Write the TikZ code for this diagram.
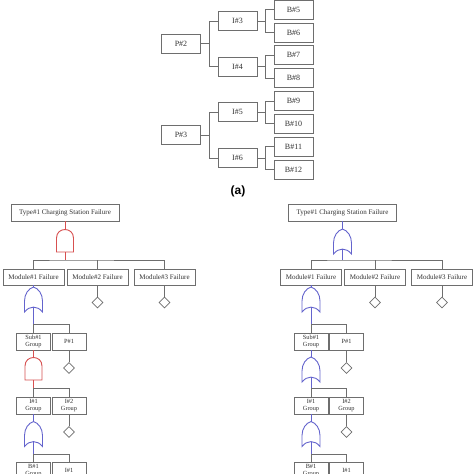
\documentclass[tikz,border=0pt]{standalone}
\usepackage{fontspec}
\setmainfont{Liberation Serif}
\newfontfamily\labfont{Liberation Sans}
\usetikzlibrary{shapes.geometric}
\definecolor{lgray}{RGB}{110,110,110}
\definecolor{gred}{RGB}{215,80,80}
\definecolor{gblue}{RGB}{100,100,205}
\definecolor{tgray}{RGB}{50,50,50}
\tikzset{
  abox/.style={draw=lgray, line width=0.8pt, minimum width=39pt, minimum height=19pt, inner sep=0pt, font=\fontsize{8}{9}\selectfont, text=tgray},
  topbox/.style={draw=lgray, line width=0.8pt, minimum width=108pt, minimum height=17pt, inner sep=0pt, font=\fontsize{7}{8}\selectfont, text=tgray},
  modbox/.style={draw=lgray, line width=0.8pt, minimum width=61pt, minimum height=16pt, inner sep=0pt, font=\fontsize{7}{8}\selectfont, text=tgray},
  grpbox/.style={draw=lgray, line width=0.8pt, minimum width=34pt, minimum height=17pt, inner sep=0pt, font=\fontsize{6.3}{7}\selectfont, text=tgray, align=center},
  basicev/.style={diamond, draw=lgray, line width=0.8pt, minimum width=11pt, minimum height=11pt, inner sep=0pt},
  link/.style={draw=lgray, line width=0.8pt},
  andgate/.pic={\draw[gred, line width=0.9pt] (-8.5,23) -- (-8.5,9) .. controls (-8.5,-2.3) and (8.5,-2.3) .. (8.5,9) -- (8.5,23) -- cycle;
    \coordinate (-in) at (0,0); \coordinate (-out) at (0,23);},
  orgate/.pic={\draw[gblue, line width=0.9pt] (0,0) .. controls (5,1.5) and (9,7) .. (9,14) -- (9,25) .. controls (4,18.5) and (-4,18.5) .. (-9,25) -- (-9,14) .. controls (-9,7) and (-5,1.5) .. (0,0) -- cycle;
    \coordinate (-in) at (0,0); \coordinate (-out) at (0,20.1);}
}
% #1 prefix, #2 xshift, #3 gate1 pic, #4 gate1 colour, #5 gate3 pic, #6 gate3 colour
\newcommand\chargetree[6]{%
\begin{scope}[xshift=#2pt]
  \node[topbox] (#1top) at (65,212.5) {Type\#1 Charging Station Failure};
  \pic (#1g1) at (65,229) {#3};
  \coordinate (#1b1) at (65,260);
  \node[modbox] (#1m1) at (33.5,277) {Module\#1 Failure};
  \node[modbox] (#1m2) at (97.5,277) {Module\#2 Failure};
  \node[modbox] (#1m3) at (164.5,277) {Module\#3 Failure};
  \node[basicev] (#1d2) at (97.5,302.5) {};
  \node[basicev] (#1d3) at (164.5,302.5) {};
  \draw[#4, line width=0.9pt] (#1top.south) -- (#1g1-in);
  \draw[#4, line width=0.9pt] (#1g1-out) -- (#1b1);
  \draw[link] (#1m1.north) |- (#1b1) -| (#1m3.north);
  \draw[link] (#1m2.north) -- (#1m2.north |- #1b1);
  \draw[link] (#1m2.south) -- (#1d2.north);
  \draw[link] (#1m3.south) -- (#1d3.north);
  % level 2
  \pic (#1g2) at (33.5,287) {orgate};
  \coordinate (#1b2) at (33.5,324);
  \node[grpbox] (#1sub) at (33.5,341.5) {Sub\#1\\Group};
  \node[grpbox] (#1p1) at (69,341.5) {P\#1};
  \node[basicev] (#1dp) at (69,368) {};
  \draw[gblue, line width=0.9pt] (#1m1.south) -- (#1g2-in);
  \draw[gblue, line width=0.9pt] (#1g2-out) -- (#1b2);
  \draw[link] (#1sub.north) -- (#1b2) -| (#1p1.north);
  \draw[link] (#1p1.south) -- (#1dp.north);
  % level 3
  \pic (#1g3) at (33.5,357) {#5};
  \coordinate (#1b3) at (33.5,388);
  \node[grpbox] (#1i1) at (33.5,405.5) {I\#1\\Group};
  \node[grpbox] (#1i2) at (69,405.5) {I\#2\\Group};
  \node[basicev] (#1di) at (69,432) {};
  \draw[#6, line width=0.9pt] (#1sub.south) -- (#1g3-in);
  \draw[#6, line width=0.9pt] (#1g3-out) -- (#1b3);
  \draw[link] (#1i1.north) -- (#1b3) -| (#1i2.north);
  \draw[link] (#1i2.south) -- (#1di.north);
  % level 4
  \pic (#1g4) at (33.5,421.5) {orgate};
  \coordinate (#1b4) at (33.5,454);
  \node[grpbox] (#1bb) at (33.5,470.5) {B\#1\\Group};
  \node[grpbox] (#1ib) at (69,470.5) {I\#1};
  \draw[gblue, line width=0.9pt] (#1i1.south) -- (#1g4-in);
  \draw[gblue, line width=0.9pt] (#1g4-out) -- (#1b4);
  \draw[link] (#1bb.north) -- (#1b4) -| (#1ib.north);
\end{scope}}
\begin{document}
\begin{tikzpicture}[x=1pt,y=-1pt]
\useasboundingbox (0,0) rectangle (474,474);
\clip (0,0) rectangle (474,474);
\fill[white] (0,0) rectangle (474,474);
% ---------- part (a)
\node[abox] (P2) at (181,43.8) {P\#2};
\node[abox] (P3) at (181,135.2) {P\#3};
\node[abox] (I3) at (237.5,21) {I\#3};
\node[abox] (I4) at (237.5,66.6) {I\#4};
\node[abox] (I5) at (237.5,112.3) {I\#5};
\node[abox] (I6) at (237.5,158) {I\#6};
\node[abox] (B5) at (293.5,9.8) {B\#5};
\node[abox] (B6) at (293.5,32.4) {B\#6};
\node[abox] (B7) at (293.5,55.2) {B\#7};
\node[abox] (B8) at (293.5,78.1) {B\#8};
\node[abox] (B9) at (293.5,100.9) {B\#9};
\node[abox] (B10) at (293.5,123.8) {B\#10};
\node[abox] (B11) at (293.5,146.6) {B\#11};
\node[abox] (B12) at (293.5,169.5) {B\#12};
\coordinate (j2) at (209,43.8);
\coordinate (j3) at (209,135.2);
\draw[link] (P2.east) -- (j2);
\draw[link] (I3.west) -| (j2);
\draw[link] (I4.west) -| (j2);
\draw[link] (P3.east) -- (j3);
\draw[link] (I5.west) -| (j3);
\draw[link] (I6.west) -| (j3);
\coordinate (k3) at (265,21);
\coordinate (k4) at (265,66.6);
\coordinate (k5) at (265,112.3);
\coordinate (k6) at (265,158);
\draw[link] (I3.east) -- (k3);
\draw[link] (B5.west) -| (k3);
\draw[link] (B6.west) -| (k3);
\draw[link] (I4.east) -- (k4);
\draw[link] (B7.west) -| (k4);
\draw[link] (B8.west) -| (k4);
\draw[link] (I5.east) -- (k5);
\draw[link] (B9.west) -| (k5);
\draw[link] (B10.west) -| (k5);
\draw[link] (I6.east) -- (k6);
\draw[link] (B11.west) -| (k6);
\draw[link] (B12.west) -| (k6);
\node[font=\labfont\bfseries\fontsize{12}{14}\selectfont] (alab) at (238,191) {(a)};
% ---------- fault trees
\chargetree{L}{0}{andgate}{gred}{andgate}{gred}
\chargetree{R}{277.5}{orgate}{gblue}{orgate}{gblue}
\end{tikzpicture}
\end{document}
